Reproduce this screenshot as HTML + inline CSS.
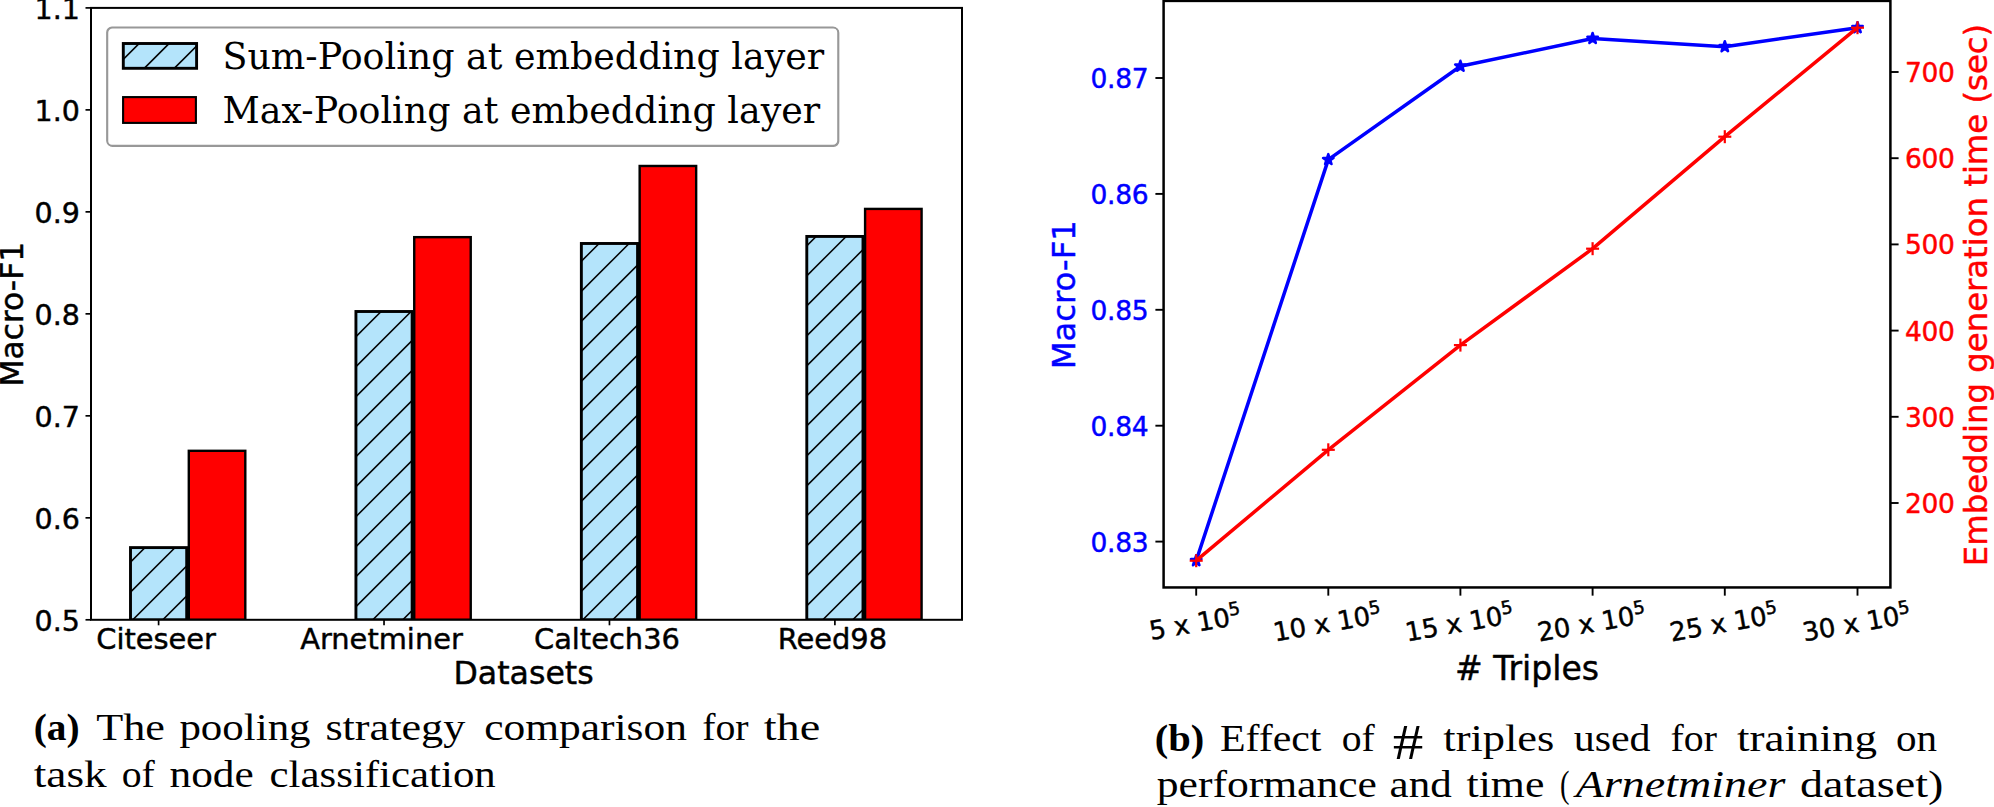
<!DOCTYPE html>
<html lang="en"><head><meta charset="utf-8"><title>Figure</title>
<style>
html,body{margin:0;padding:0;background:#fff;}
body{width:1994px;height:807px;overflow:hidden;}
svg{display:block;}
.sans{font-family:"DejaVu Sans","Liberation Sans",sans-serif;stroke-width:0.45px;stroke-linejoin:round;}
.k{stroke:#000;}.b{stroke:#0000ff;}.r{stroke:#ff0000;}
.serif{font-family:"DejaVu Serif","Liberation Serif",serif;}
.cap{font-family:"Liberation Serif","DejaVu Serif",serif;}
</style></head><body>
<svg width="1994" height="807" viewBox="0 0 1994 807">
<rect x="0" y="0" width="1994" height="807" fill="#ffffff"/>
<defs>
<clipPath id="cb0"><rect x="130.50" y="547.60" width="56.20" height="72.20"/></clipPath>
<clipPath id="cb1"><rect x="355.93" y="311.50" width="56.20" height="308.30"/></clipPath>
<clipPath id="cb2"><rect x="581.36" y="243.48" width="56.20" height="376.32"/></clipPath>
<clipPath id="cb3"><rect x="806.79" y="236.44" width="56.20" height="383.36"/></clipPath>
<clipPath id="cax"><rect x="91.0" y="7.9" width="871.0" height="611.9"/></clipPath>
<clipPath id="cleg"><rect x="123.3" y="43.5" width="73.3" height="24.8"/></clipPath>
</defs>
<g clip-path="url(#cax)">
<rect x="130.50" y="547.60" width="56.20" height="72.20" fill="#b4e4fb"/>
<g clip-path="url(#cb0)" stroke="#000" stroke-width="1.5" fill="none"><line x1="37.80" y1="624.80" x2="120.00" y2="542.60"/><line x1="67.80" y1="624.80" x2="150.00" y2="542.60"/><line x1="97.80" y1="624.80" x2="180.00" y2="542.60"/><line x1="127.80" y1="624.80" x2="210.00" y2="542.60"/><line x1="157.80" y1="624.80" x2="240.00" y2="542.60"/><line x1="187.80" y1="624.80" x2="270.00" y2="542.60"/></g>
<rect x="130.50" y="547.60" width="56.20" height="72.20" fill="none" stroke="#000" stroke-width="2.9"/>
<rect x="188.80" y="450.81" width="56.50" height="168.99" fill="#ff0000" stroke="#000" stroke-width="2.4"/>
<rect x="355.93" y="311.50" width="56.20" height="308.30" fill="#b4e4fb"/>
<g clip-path="url(#cb1)" stroke="#000" stroke-width="1.5" fill="none"><line x1="37.80" y1="624.80" x2="356.10" y2="306.50"/><line x1="67.80" y1="624.80" x2="386.10" y2="306.50"/><line x1="97.80" y1="624.80" x2="416.10" y2="306.50"/><line x1="127.80" y1="624.80" x2="446.10" y2="306.50"/><line x1="157.80" y1="624.80" x2="476.10" y2="306.50"/><line x1="187.80" y1="624.80" x2="506.10" y2="306.50"/><line x1="217.80" y1="624.80" x2="536.10" y2="306.50"/><line x1="247.80" y1="624.80" x2="566.10" y2="306.50"/><line x1="277.80" y1="624.80" x2="596.10" y2="306.50"/><line x1="307.80" y1="624.80" x2="626.10" y2="306.50"/><line x1="337.80" y1="624.80" x2="656.10" y2="306.50"/><line x1="367.80" y1="624.80" x2="686.10" y2="306.50"/><line x1="397.80" y1="624.80" x2="716.10" y2="306.50"/><line x1="427.80" y1="624.80" x2="746.10" y2="306.50"/></g>
<rect x="355.93" y="311.50" width="56.20" height="308.30" fill="none" stroke="#000" stroke-width="2.9"/>
<rect x="414.23" y="237.16" width="56.50" height="382.64" fill="#ff0000" stroke="#000" stroke-width="2.4"/>
<rect x="581.36" y="243.48" width="56.20" height="376.32" fill="#b4e4fb"/>
<g clip-path="url(#cb2)" stroke="#000" stroke-width="1.5" fill="none"><line x1="187.80" y1="624.80" x2="574.12" y2="238.48"/><line x1="217.80" y1="624.80" x2="604.12" y2="238.48"/><line x1="247.80" y1="624.80" x2="634.12" y2="238.48"/><line x1="277.80" y1="624.80" x2="664.12" y2="238.48"/><line x1="307.80" y1="624.80" x2="694.12" y2="238.48"/><line x1="337.80" y1="624.80" x2="724.12" y2="238.48"/><line x1="367.80" y1="624.80" x2="754.12" y2="238.48"/><line x1="397.80" y1="624.80" x2="784.12" y2="238.48"/><line x1="427.80" y1="624.80" x2="814.12" y2="238.48"/><line x1="457.80" y1="624.80" x2="844.12" y2="238.48"/><line x1="487.80" y1="624.80" x2="874.12" y2="238.48"/><line x1="517.80" y1="624.80" x2="904.12" y2="238.48"/><line x1="547.80" y1="624.80" x2="934.12" y2="238.48"/><line x1="577.80" y1="624.80" x2="964.12" y2="238.48"/><line x1="607.80" y1="624.80" x2="994.12" y2="238.48"/><line x1="637.80" y1="624.80" x2="1024.12" y2="238.48"/></g>
<rect x="581.36" y="243.48" width="56.20" height="376.32" fill="none" stroke="#000" stroke-width="2.9"/>
<rect x="639.66" y="165.97" width="56.50" height="453.83" fill="#ff0000" stroke="#000" stroke-width="2.4"/>
<rect x="806.79" y="236.44" width="56.20" height="383.36" fill="#b4e4fb"/>
<g clip-path="url(#cb3)" stroke="#000" stroke-width="1.5" fill="none"><line x1="397.80" y1="624.80" x2="791.16" y2="231.44"/><line x1="427.80" y1="624.80" x2="821.16" y2="231.44"/><line x1="457.80" y1="624.80" x2="851.16" y2="231.44"/><line x1="487.80" y1="624.80" x2="881.16" y2="231.44"/><line x1="517.80" y1="624.80" x2="911.16" y2="231.44"/><line x1="547.80" y1="624.80" x2="941.16" y2="231.44"/><line x1="577.80" y1="624.80" x2="971.16" y2="231.44"/><line x1="607.80" y1="624.80" x2="1001.16" y2="231.44"/><line x1="637.80" y1="624.80" x2="1031.16" y2="231.44"/><line x1="667.80" y1="624.80" x2="1061.16" y2="231.44"/><line x1="697.80" y1="624.80" x2="1091.16" y2="231.44"/><line x1="727.80" y1="624.80" x2="1121.16" y2="231.44"/><line x1="757.80" y1="624.80" x2="1151.16" y2="231.44"/><line x1="787.80" y1="624.80" x2="1181.16" y2="231.44"/><line x1="817.80" y1="624.80" x2="1211.16" y2="231.44"/><line x1="847.80" y1="624.80" x2="1241.16" y2="231.44"/><line x1="877.80" y1="624.80" x2="1271.16" y2="231.44"/></g>
<rect x="806.79" y="236.44" width="56.20" height="383.36" fill="none" stroke="#000" stroke-width="2.9"/>
<rect x="865.09" y="208.91" width="56.50" height="410.89" fill="#ff0000" stroke="#000" stroke-width="2.4"/>
</g>
<rect x="91.0" y="7.9" width="871.0" height="611.9" fill="none" stroke="#000" stroke-width="2.0"/>
<g stroke="#000" stroke-width="1.7">
<line x1="85.5" y1="619.80" x2="91.0" y2="619.80"/><line x1="85.5" y1="517.82" x2="91.0" y2="517.82"/><line x1="85.5" y1="415.83" x2="91.0" y2="415.83"/><line x1="85.5" y1="313.85" x2="91.0" y2="313.85"/><line x1="85.5" y1="211.87" x2="91.0" y2="211.87"/><line x1="85.5" y1="109.88" x2="91.0" y2="109.88"/><line x1="85.5" y1="7.90" x2="91.0" y2="7.90"/><line x1="158.60" y1="619.8" x2="158.60" y2="625.3"/><line x1="384.03" y1="619.8" x2="384.03" y2="625.3"/><line x1="609.46" y1="619.8" x2="609.46" y2="625.3"/><line x1="834.89" y1="619.8" x2="834.89" y2="625.3"/></g>
<g class="sans k" font-size="28.5" fill="#000" text-anchor="end">
<text x="79.9" y="630.50">0.5</text><text x="79.9" y="528.52">0.6</text><text x="79.9" y="426.53">0.7</text><text x="79.9" y="324.55">0.8</text><text x="79.9" y="222.57">0.9</text><text x="79.9" y="120.58">1.0</text><text x="79.9" y="18.60">1.1</text></g>
<g class="sans k" font-size="28.9" fill="#000" text-anchor="middle">
<text x="156.10" y="649.0">Citeseer</text><text x="381.53" y="649.0">Arnetminer</text><text x="606.96" y="649.0">Caltech36</text><text x="832.39" y="649.0">Reed98</text></g>
<text class="sans k" font-size="31.6" text-anchor="middle" x="523.6" y="683.8">Datasets</text>
<text class="sans k" font-size="31.3" text-anchor="middle" transform="translate(23.4,314.2) rotate(-90)">Macro-F1</text>
<rect x="106.9" y="27.2" width="731.1" height="118.4" rx="5" ry="5" fill="#ffffff" fill-opacity="0.8" stroke="#989898" stroke-width="1.5"/>
<rect x="107.5" y="27.8" width="731.1" height="118.4" rx="5" ry="5" fill="none" stroke="#989898" stroke-width="1.5"/>
<rect x="123.3" y="43.5" width="73.3" height="24.8" fill="#b4e4fb"/>
<g clip-path="url(#cleg)" stroke="#000" stroke-width="1.6" fill="none"><line x1="79.30" y1="73.30" x2="114.10" y2="38.50"/><line x1="109.30" y1="73.30" x2="144.10" y2="38.50"/><line x1="139.30" y1="73.30" x2="174.10" y2="38.50"/><line x1="169.30" y1="73.30" x2="204.10" y2="38.50"/><line x1="199.30" y1="73.30" x2="234.10" y2="38.50"/></g>
<rect x="123.3" y="43.5" width="73.3" height="24.8" fill="none" stroke="#000" stroke-width="2.9"/>
<rect x="123.1" y="97.1" width="72.8" height="25.8" fill="#ff0000" stroke="#000" stroke-width="2.1"/>
<text class="serif" font-size="36.4" x="222.5" y="69.0">Sum-Pooling at embedding layer</text>
<text class="serif" font-size="36.4" x="222.5" y="123.0">Max-Pooling at embedding layer</text>
<polyline fill="none" stroke="#0000ff" stroke-width="3.5" stroke-linejoin="round" points="1196.2,560.7 1328.3,159.6 1460.4,66.3 1592.6,38.5 1724.8,46.7 1857.5,27.7"/>
<polygon points="1196.20,555.20 1197.43,559.00 1201.43,559.00 1198.20,561.35 1199.43,565.15 1196.20,562.80 1192.97,565.15 1194.20,561.35 1190.97,559.00 1194.97,559.00" fill="#0000ff" stroke="#0000ff" stroke-width="2.5" stroke-linejoin="round"/><polygon points="1328.30,154.10 1329.53,157.90 1333.53,157.90 1330.30,160.25 1331.53,164.05 1328.30,161.70 1325.07,164.05 1326.30,160.25 1323.07,157.90 1327.07,157.90" fill="#0000ff" stroke="#0000ff" stroke-width="2.5" stroke-linejoin="round"/><polygon points="1460.40,60.80 1461.63,64.60 1465.63,64.60 1462.40,66.95 1463.63,70.75 1460.40,68.40 1457.17,70.75 1458.40,66.95 1455.17,64.60 1459.17,64.60" fill="#0000ff" stroke="#0000ff" stroke-width="2.5" stroke-linejoin="round"/><polygon points="1592.60,33.00 1593.83,36.80 1597.83,36.80 1594.60,39.15 1595.83,42.95 1592.60,40.60 1589.37,42.95 1590.60,39.15 1587.37,36.80 1591.37,36.80" fill="#0000ff" stroke="#0000ff" stroke-width="2.5" stroke-linejoin="round"/><polygon points="1724.80,41.20 1726.03,45.00 1730.03,45.00 1726.80,47.35 1728.03,51.15 1724.80,48.80 1721.57,51.15 1722.80,47.35 1719.57,45.00 1723.57,45.00" fill="#0000ff" stroke="#0000ff" stroke-width="2.5" stroke-linejoin="round"/><polygon points="1857.50,22.20 1858.73,26.00 1862.73,26.00 1859.50,28.35 1860.73,32.15 1857.50,29.80 1854.27,32.15 1855.50,28.35 1852.27,26.00 1856.27,26.00" fill="#0000ff" stroke="#0000ff" stroke-width="2.5" stroke-linejoin="round"/>
<polyline fill="none" stroke="#ff0000" stroke-width="3.5" stroke-linejoin="round" points="1196.2,560.7 1328.3,449.8 1460.4,345.1 1592.6,248.7 1724.8,136.7 1857.5,27.7"/>
<g stroke="#ff0000" stroke-width="2.2"><line x1="1189.7" y1="560.7" x2="1202.7" y2="560.7"/><line x1="1196.2" y1="554.2" x2="1196.2" y2="567.2"/><line x1="1321.8" y1="449.8" x2="1334.8" y2="449.8"/><line x1="1328.3" y1="443.3" x2="1328.3" y2="456.3"/><line x1="1453.9" y1="345.1" x2="1466.9" y2="345.1"/><line x1="1460.4" y1="338.6" x2="1460.4" y2="351.6"/><line x1="1586.1" y1="248.7" x2="1599.1" y2="248.7"/><line x1="1592.6" y1="242.2" x2="1592.6" y2="255.2"/><line x1="1718.3" y1="136.7" x2="1731.3" y2="136.7"/><line x1="1724.8" y1="130.2" x2="1724.8" y2="143.2"/><line x1="1851.0" y1="27.7" x2="1864.0" y2="27.7"/><line x1="1857.5" y1="21.2" x2="1857.5" y2="34.2"/></g>
<rect x="1163.6" y="0.9" width="726.80" height="586.55" fill="none" stroke="#000" stroke-width="2.5"/>
<g stroke="#000" stroke-width="1.9">
<line x1="1155.40" y1="78.0" x2="1163.6" y2="78.0"/><line x1="1155.40" y1="193.9" x2="1163.6" y2="193.9"/><line x1="1155.40" y1="309.8" x2="1163.6" y2="309.8"/><line x1="1155.40" y1="425.7" x2="1163.6" y2="425.7"/><line x1="1155.40" y1="541.6" x2="1163.6" y2="541.6"/><line x1="1890.4" y1="72.0" x2="1898.60" y2="72.0"/><line x1="1890.4" y1="158.2" x2="1898.60" y2="158.2"/><line x1="1890.4" y1="244.4" x2="1898.60" y2="244.4"/><line x1="1890.4" y1="330.6" x2="1898.60" y2="330.6"/><line x1="1890.4" y1="416.8" x2="1898.60" y2="416.8"/><line x1="1890.4" y1="503.0" x2="1898.60" y2="503.0"/><line x1="1196.2" y1="587.45" x2="1196.2" y2="595.65"/><line x1="1328.3" y1="587.45" x2="1328.3" y2="595.65"/><line x1="1460.4" y1="587.45" x2="1460.4" y2="595.65"/><line x1="1592.6" y1="587.45" x2="1592.6" y2="595.65"/><line x1="1724.8" y1="587.45" x2="1724.8" y2="595.65"/><line x1="1857.5" y1="587.45" x2="1857.5" y2="595.65"/></g>
<g class="sans b" font-size="26.5" letter-spacing="-0.3" fill="#0000ff" text-anchor="end"><text x="1148.3" y="88.20">0.87</text><text x="1148.3" y="204.10">0.86</text><text x="1148.3" y="320.00">0.85</text><text x="1148.3" y="435.90">0.84</text><text x="1148.3" y="551.80">0.83</text></g>
<g class="sans r" font-size="26.5" letter-spacing="-0.3" fill="#ff0000" text-anchor="start"><text x="1904.9" y="82.00">700</text><text x="1904.9" y="168.20">600</text><text x="1904.9" y="254.40">500</text><text x="1904.9" y="340.60">400</text><text x="1904.9" y="426.80">300</text><text x="1904.9" y="513.00">200</text></g>
<g class="sans k" font-size="26" fill="#000" text-anchor="middle"><text transform="translate(1194.70,619.5) rotate(-10)" x="0" y="12.6">5 x 10<tspan font-size="18.2" dy="-9.9">5</tspan></text><text transform="translate(1326.80,619.5) rotate(-10)" x="0" y="12.6">10 x 10<tspan font-size="18.2" dy="-9.9">5</tspan></text><text transform="translate(1458.90,619.5) rotate(-10)" x="0" y="12.6">15 x 10<tspan font-size="18.2" dy="-9.9">5</tspan></text><text transform="translate(1591.10,619.5) rotate(-10)" x="0" y="12.6">20 x 10<tspan font-size="18.2" dy="-9.9">5</tspan></text><text transform="translate(1723.30,619.5) rotate(-10)" x="0" y="12.6">25 x 10<tspan font-size="18.2" dy="-9.9">5</tspan></text><text transform="translate(1856.00,619.5) rotate(-10)" x="0" y="12.6">30 x 10<tspan font-size="18.2" dy="-9.9">5</tspan></text></g>
<text class="sans k" font-size="33.1" text-anchor="middle" x="1527.0" y="680.3"># Triples</text>
<text class="sans b" font-size="32.3" fill="#0000ff" text-anchor="middle" transform="translate(1074.5,294.8) rotate(-90)">Macro-F1</text>
<text class="sans r" font-size="32.3" fill="#ff0000" text-anchor="middle" transform="translate(1987.0,295) rotate(-90)">Embedding generation time (sec)</text>
<g class="cap" font-size="37.0" fill="#000">
<text x="33.7" y="740.1" textLength="45.9" lengthAdjust="spacingAndGlyphs" font-weight="bold">(a)</text><text x="96.2" y="740.1" textLength="68.7" lengthAdjust="spacingAndGlyphs">The</text><text x="179.4" y="740.1" textLength="131.2" lengthAdjust="spacingAndGlyphs">pooling</text><text x="325.4" y="740.1" textLength="139.9" lengthAdjust="spacingAndGlyphs">strategy</text><text x="484.2" y="740.1" textLength="202.8" lengthAdjust="spacingAndGlyphs">comparison</text><text x="702.2" y="740.1" textLength="46.4" lengthAdjust="spacingAndGlyphs">for</text><text x="763.7" y="740.1" textLength="56.5" lengthAdjust="spacingAndGlyphs">the</text>
<text x="33.7" y="786.9" textLength="73.1" lengthAdjust="spacingAndGlyphs">task</text><text x="121.7" y="786.9" textLength="33.1" lengthAdjust="spacingAndGlyphs">of</text><text x="169.5" y="786.9" textLength="84.3" lengthAdjust="spacingAndGlyphs">node</text><text x="269.6" y="786.9" textLength="226.2" lengthAdjust="spacingAndGlyphs">classification</text>
<text x="1154.7" y="750.5" textLength="49.5" lengthAdjust="spacingAndGlyphs" font-weight="bold">(b)</text><text x="1220.0" y="750.5" textLength="101.5" lengthAdjust="spacingAndGlyphs">Effect</text><text x="1341.8" y="750.5" textLength="33.0" lengthAdjust="spacingAndGlyphs">of</text><text x="1392.7" y="758.5" textLength="30.6" lengthAdjust="spacingAndGlyphs" font-size="50">#</text><text x="1443.3" y="750.5" textLength="111.0" lengthAdjust="spacingAndGlyphs">triples</text><text x="1573.7" y="750.5" textLength="76.9" lengthAdjust="spacingAndGlyphs">used</text><text x="1670.6" y="750.5" textLength="46.3" lengthAdjust="spacingAndGlyphs">for</text><text x="1736.9" y="750.5" textLength="140.1" lengthAdjust="spacingAndGlyphs">training</text><text x="1895.9" y="750.5" textLength="41.1" lengthAdjust="spacingAndGlyphs">on</text>
<text x="1156.8" y="796.9" textLength="220.1" lengthAdjust="spacingAndGlyphs">performance</text><text x="1389.6" y="796.9" textLength="62.1" lengthAdjust="spacingAndGlyphs">and</text><text x="1466.5" y="796.9" textLength="77.9" lengthAdjust="spacingAndGlyphs">time</text><text x="1560.0" y="796.9" textLength="9.5" lengthAdjust="spacingAndGlyphs">(</text><text x="1575.8" y="796.9" textLength="209.6" lengthAdjust="spacingAndGlyphs" font-style="italic">Arnetminer</text><text x="1800.1" y="796.9" textLength="143.2" lengthAdjust="spacingAndGlyphs">dataset)</text>
</g>
</svg>
</body></html>
